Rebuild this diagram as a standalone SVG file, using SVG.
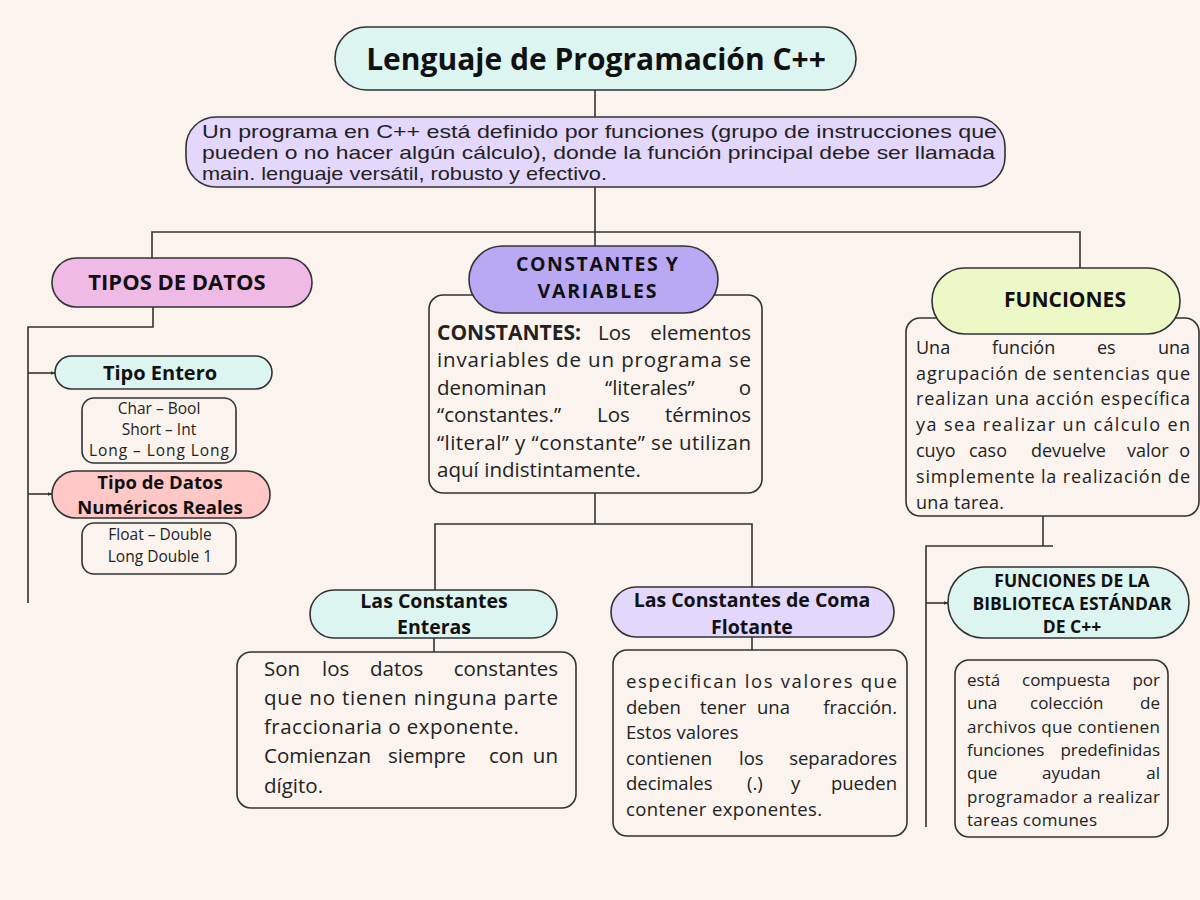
<svg xmlns="http://www.w3.org/2000/svg" width="1200" height="900" viewBox="0 0 1200 900">
<defs>
<marker id="arr" viewBox="0 0 10 10" refX="9" refY="5" markerWidth="5" markerHeight="5" orient="auto" markerUnits="userSpaceOnUse">
<path d="M0,1 L10,5 L0,9 z" fill="#333"/>
</marker>
<style>
.bg{fill:#FAF3EE}
.box{stroke:#333;stroke-width:1.6}
.mint{fill:#DDF5F0}
.lav{fill:#E4D7FC}
.pink{fill:#F0BAE6}
.salmon{fill:#FFC8C6}
.violet{fill:#B9A9F4}
.lime{fill:#ECF8C6}
.card{fill:#FAF3EE}
.ln{stroke:#333;stroke-width:1.6;fill:none}
.h{font-family:"Open Sans","Noto Sans",sans-serif;font-weight:bold;fill:#111;text-anchor:middle}
.t{font-family:"Open Sans","Noto Sans",sans-serif;fill:#222}
.e{text-anchor:end}
.m{font-family:"Liberation Sans",sans-serif;fill:#222}
</style>
</defs>
<rect class="bg" x="0" y="0" width="1200" height="900"/>

<g id="connectors">
<line class="ln" x1="595" y1="90" x2="595" y2="117"/>
<line class="ln" x1="595" y1="187" x2="595" y2="247"/>
<polyline class="ln" points="152,258 152,232 1080,232 1080,268"/>
<polyline class="ln" points="153,307 153,327 28,327 28,603"/>
<line class="ln" x1="28" y1="373" x2="55" y2="373" marker-end="url(#arr)"/>
<line class="ln" x1="28" y1="494" x2="52" y2="494" marker-end="url(#arr)"/>
<line class="ln" x1="595" y1="484" x2="595" y2="524"/>
<polyline class="ln" points="435,590 435,524 752,524 752,588"/>
<line class="ln" x1="434" y1="638" x2="434" y2="652"/>
<line class="ln" x1="752" y1="637" x2="752" y2="651"/>
<line class="ln" x1="1043" y1="510" x2="1043" y2="546"/>
<polyline class="ln" points="1053,546 926,546 926,827"/>
<line class="ln" x1="926" y1="603" x2="948" y2="603" marker-end="url(#arr)"/>
</g>

<g id="title">
<rect class="box mint" x="335" y="27" width="521" height="63" rx="31.5"/>
<text class="h" x="596" y="70" font-size="30">Lenguaje de Programación C++</text>
</g>

<g id="definicion">
<rect class="box lav" x="186" y="117" width="819" height="70" rx="30"/>
<text class="m" x="202" y="138" font-size="19" textLength="795" lengthAdjust="spacingAndGlyphs">Un programa en C++ está definido por funciones (grupo de instrucciones que</text>
<text class="m" x="202" y="159" font-size="19" textLength="793" lengthAdjust="spacingAndGlyphs">pueden o no hacer algún cálculo), donde la función principal debe ser llamada</text>
<text class="m" x="202" y="180" font-size="19" textLength="405" lengthAdjust="spacingAndGlyphs">main. lenguaje versátil, robusto y efectivo.</text>
</g>

<g id="tipos-de-datos">
<rect class="box pink" x="52" y="258" width="260" height="49" rx="24.5"/>
<text class="h" x="177" y="290" font-size="22">TIPOS DE DATOS</text>
</g>

<g id="tipo-entero">
<rect class="box mint" x="55" y="356" width="217" height="33" rx="16.5"/>
<text class="h" x="160" y="380" font-size="20">Tipo Entero</text>
</g>

<g id="tipo-entero-lista">
<rect class="box card" x="82" y="398" width="154" height="65" rx="12"/>
<text class="t" x="159" y="414" font-size="15.5" text-anchor="middle">Char – Bool</text>
<text class="t" x="159" y="435" font-size="15.5" text-anchor="middle">Short – Int</text>
<text class="t" x="159" y="456" font-size="15.5" text-anchor="middle" textLength="140" lengthAdjust="spacing">Long – Long Long</text>
</g>

<g id="tipo-reales">
<rect class="box salmon" x="52" y="471" width="218" height="47" rx="23.5"/>
<text class="h" x="160" y="489" font-size="18.5">Tipo de Datos</text>
<text class="h" x="160" y="514" font-size="18.5">Numéricos Reales</text>
</g>

<g id="tipo-reales-lista">
<rect class="box card" x="82" y="523" width="154" height="51" rx="12"/>
<text class="t" x="160" y="540" font-size="15.5" text-anchor="middle">Float – Double</text>
<text class="t" x="160" y="562" font-size="15.5" text-anchor="middle">Long Double 1</text>
</g>

<g id="constantes-variables">
<rect class="box card" x="429" y="295" width="333" height="198" rx="14"/>
<rect class="box violet" x="469" y="246" width="249" height="67" rx="33.5"/>
<text class="h" x="597" y="271" font-size="19.5" textLength="162" lengthAdjust="spacing">CONSTANTES Y</text>
<text class="h" x="597" y="298" font-size="19.5" textLength="119" lengthAdjust="spacing">VARIABLES</text>
<text class="t" font-size="20.5" x="437" y="340" font-weight="bold" fill="#111" textLength="144" lengthAdjust="spacingAndGlyphs">CONSTANTES:</text>
<text class="t" font-size="20.5" x="598" y="340">Los</text>
<text class="t e" font-size="20.5" x="751" y="340">elementos</text>
<text class="t" font-size="20.5" x="437" y="367" textLength="314" lengthAdjust="spacing">invariables de un programa se</text>
<text class="t" font-size="20.5" y="395"><tspan x="437">denominan</tspan><tspan x="605">“literales”</tspan></text>
<text class="t e" font-size="20.5" x="751" y="395">o</text>
<text class="t" font-size="20.5" y="422"><tspan x="437">“constantes.”</tspan><tspan x="597">Los</tspan></text>
<text class="t e" font-size="20.5" x="751" y="422">términos</text>
<text class="t" font-size="20.5" x="437" y="450" textLength="314" lengthAdjust="spacing">“literal” y “constante” se utilizan</text>
<text class="t" font-size="20.5" x="437" y="477" textLength="204" lengthAdjust="spacing">aquí indistintamente.</text>
</g>

<g id="constantes-enteras">
<rect class="box mint" x="310" y="590" width="247" height="48" rx="24"/>
<text class="h" x="434" y="608" font-size="19.5">Las Constantes</text>
<text class="h" x="434" y="634" font-size="19.5">Enteras</text>
</g>

<g id="constantes-enteras-texto">
<rect class="box card" x="237" y="652" width="339" height="156" rx="14"/>
<text class="t" font-size="20.5" y="676"><tspan x="264">Son</tspan><tspan x="322">los</tspan><tspan x="370">datos</tspan></text>
<text class="t e" font-size="20.5" x="558" y="676">constantes</text>
<text class="t" font-size="20.5" x="264" y="705" textLength="294" lengthAdjust="spacing">que no tienen ninguna parte</text>
<text class="t" font-size="20.5" x="264" y="734" textLength="255" lengthAdjust="spacing">fraccionaria o exponente.</text>
<text class="t" font-size="20.5" y="763"><tspan x="264">Comienzan</tspan><tspan x="388">siempre</tspan><tspan x="489">con</tspan></text>
<text class="t e" font-size="20.5" x="558" y="763">un</text>
<text class="t" font-size="20.5" x="264" y="793">dígito.</text>
</g>

<g id="constantes-flotante">
<rect class="box lav" x="611" y="587" width="283" height="50" rx="25"/>
<text class="h" x="752" y="607" font-size="19.5">Las Constantes de Coma</text>
<text class="h" x="752" y="634" font-size="19.5">Flotante</text>
</g>

<g id="constantes-flotante-texto">
<rect class="box card" x="613" y="650" width="294" height="186" rx="14"/>
<text class="t" font-size="18.5" x="626" y="688" textLength="271" lengthAdjust="spacing">especifican los valores que</text>
<text class="t" font-size="18.5" y="714"><tspan x="626">deben</tspan><tspan x="700">tener</tspan><tspan x="757">una</tspan></text>
<text class="t e" font-size="18.5" x="897" y="714">fracción.</text>
<text class="t" font-size="18.5" x="626" y="739">Estos valores</text>
<text class="t" font-size="18.5" y="765"><tspan x="626">contienen</tspan><tspan x="739">los</tspan></text>
<text class="t e" font-size="18.5" x="897" y="765">separadores</text>
<text class="t" font-size="18.5" y="790"><tspan x="626">decimales</tspan><tspan x="747">(.)</tspan><tspan x="791">y</tspan></text>
<text class="t e" font-size="18.5" x="897" y="790">pueden</text>
<text class="t" font-size="18.5" x="626" y="816" textLength="196" lengthAdjust="spacing">contener exponentes.</text>
</g>

<g id="funciones">
<rect class="box card" x="906" y="318" width="293" height="198" rx="14"/>
<rect class="box lime" x="932" y="268" width="248" height="66" rx="33"/>
<text class="h" x="1065" y="307" font-size="21">FUNCIONES</text>
<text class="t" font-size="18" y="354"><tspan x="916">Una</tspan><tspan x="992">función</tspan><tspan x="1097">es</tspan></text>
<text class="t e" font-size="18" x="1190" y="354">una</text>
<text class="t" font-size="18" x="916" y="380" textLength="274" lengthAdjust="spacing">agrupación de sentencias que</text>
<text class="t" font-size="18" x="916" y="405" textLength="274" lengthAdjust="spacing">realizan una acción específica</text>
<text class="t" font-size="18" x="916" y="431" textLength="274" lengthAdjust="spacing">ya sea realizar un cálculo en</text>
<text class="t" font-size="18" y="457"><tspan x="916">cuyo</tspan><tspan x="969">caso</tspan><tspan x="1031">devuelve</tspan><tspan x="1127">valor</tspan></text>
<text class="t e" font-size="18" x="1190" y="457">o</text>
<text class="t" font-size="18" x="916" y="483" textLength="274" lengthAdjust="spacing">simplemente la realización de</text>
<text class="t" font-size="18" x="916" y="509" textLength="88" lengthAdjust="spacing">una tarea.</text>
</g>

<g id="biblioteca-estandar">
<rect class="box mint" x="948" y="567" width="241" height="71" rx="35.5"/>
<text class="h" x="1072" y="587" font-size="17.5">FUNCIONES DE LA</text>
<text class="h" x="1072" y="610" font-size="17.5">BIBLIOTECA ESTÁNDAR</text>
<text class="h" x="1072" y="633" font-size="17.5">DE C++</text>
</g>

<g id="biblioteca-texto">
<rect class="box card" x="955" y="660" width="213" height="177" rx="14"/>
<text class="t" font-size="17" y="686"><tspan x="967">está</tspan><tspan x="1022">compuesta</tspan></text>
<text class="t e" font-size="17" x="1160" y="686">por</text>
<text class="t" font-size="17" y="709"><tspan x="967">una</tspan><tspan x="1030">colección</tspan></text>
<text class="t e" font-size="17" x="1160" y="709">de</text>
<text class="t" font-size="17" x="967" y="733" textLength="193" lengthAdjust="spacing">archivos que contienen</text>
<text class="t" font-size="17" x="967" y="756">funciones</text>
<text class="t e" font-size="17" x="1160" y="756">predefinidas</text>
<text class="t" font-size="17" y="779"><tspan x="967">que</tspan><tspan x="1042">ayudan</tspan></text>
<text class="t e" font-size="17" x="1160" y="779">al</text>
<text class="t" font-size="17" x="967" y="803" textLength="193" lengthAdjust="spacing">programador a realizar</text>
<text class="t" font-size="17" x="967" y="826" textLength="130" lengthAdjust="spacing">tareas comunes</text>
</g>
</svg>
